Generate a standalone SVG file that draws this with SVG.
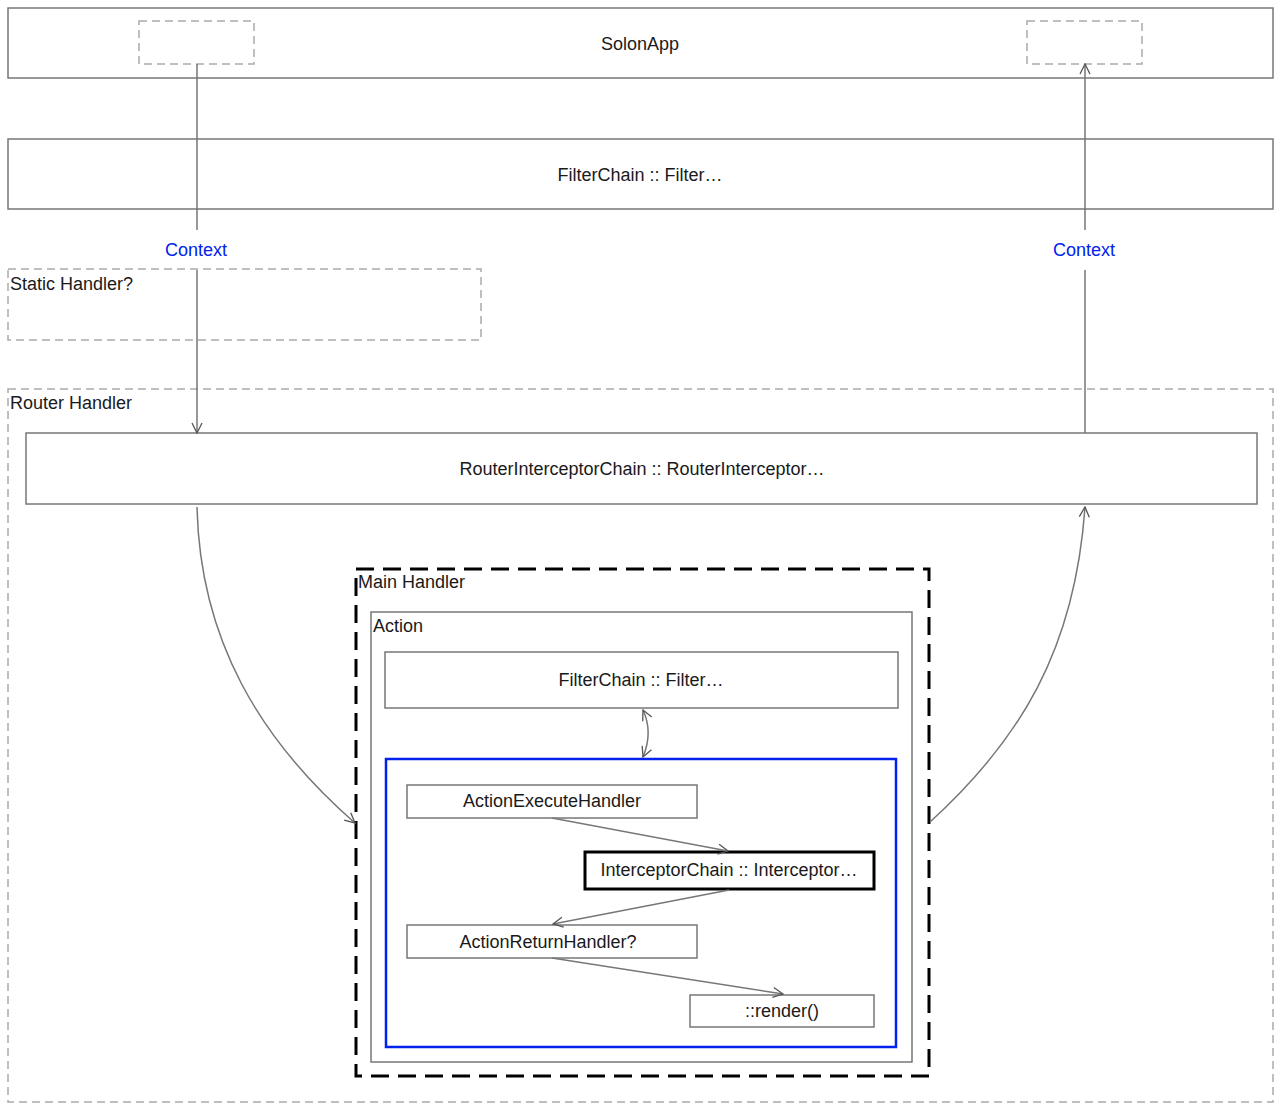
<svg xmlns="http://www.w3.org/2000/svg" width="1280" height="1110" viewBox="0 0 1280 1110">
<style>
text{font-family:"Liberation Sans",Arial,sans-serif;font-size:18px;fill:#1a1a1a}
.box{fill:#fff;stroke:#777;stroke-width:1.5}
.dash{fill:none;stroke:#aaa;stroke-width:1.5;stroke-dasharray:8 5}
.c{text-anchor:middle;dominant-baseline:central}
.conn{fill:none;stroke:#777;stroke-width:1.5}
.blue{fill:#0022ee}
</style>
<defs>
<marker id="a" viewBox="0 0 12 12" refX="11" refY="6" markerWidth="12" markerHeight="12" markerUnits="userSpaceOnUse" orient="auto-start-reverse">
<path d="M1 1L11 6L1 11" fill="none" stroke="#555" stroke-width="1.3"/>
</marker>
</defs>
<rect width="1280" height="1110" fill="#fff"/>
<g id="solonapp"><rect class="box" x="8" y="8" width="1265" height="70"/><text class="c" x="640" y="44">SolonApp</text>
<rect class="dash" x="139" y="21" width="115" height="43"/><rect class="dash" x="1027" y="21" width="115" height="43"/></g>
<g id="filterchain"><rect class="box" x="8" y="139" width="1265" height="70"/><text class="c" x="640" y="175">FilterChain :: Filter…</text></g>
<g id="static"><rect class="dash" x="8" y="269" width="473" height="71"/><text x="10" y="290">Static Handler?</text></g>
<g id="router"><rect class="dash" x="8" y="389" width="1265" height="713"/><text x="10" y="409">Router Handler</text></g>
<g id="ric"><rect class="box" x="26" y="433" width="1231" height="71"/><text class="c" x="642" y="469">RouterInterceptorChain :: RouterInterceptor…</text></g>
<g id="main"><rect x="356" y="569" width="573" height="507" fill="none" stroke="#000" stroke-width="3" stroke-dasharray="18 9"/><text x="358" y="588">Main Handler</text></g>
<g id="action"><rect class="box" x="371" y="612" width="541" height="450"/><text x="373" y="632">Action</text></g>
<g id="filterchain2"><rect class="box" x="385" y="652" width="513" height="56"/><text class="c" x="641" y="680">FilterChain :: Filter…</text></g>
<g id="inner"><rect x="386" y="759" width="510" height="288" fill="none" stroke="#0022ee" stroke-width="2.5"/></g>
<g id="exec"><rect class="box" x="407" y="785" width="290" height="33"/><text class="c" x="552" y="801">ActionExecuteHandler</text></g>
<g id="ic"><rect x="585" y="852" width="289" height="37" fill="#fff" stroke="#000" stroke-width="3"/><text class="c" x="729" y="870">InterceptorChain :: Interceptor…</text></g>
<g id="ret"><rect class="box" x="407" y="925" width="290" height="33"/><text class="c" x="548" y="942">ActionReturnHandler?</text></g>
<g id="render"><rect class="box" x="690" y="995" width="184" height="32"/><text class="c" x="782" y="1011">::render()</text></g>
<g id="connectors">
<path class="conn" d="M197 64V230M197 270V433" marker-end="url(#a)"/>
<path class="conn" d="M1085 433V270M1085 230V64" marker-end="url(#a)"/>
<text class="c blue" x="196" y="250" style="fill:#0022ee">Context</text>
<text class="c blue" x="1084" y="250" style="fill:#0022ee">Context</text>
<path class="conn" d="M197 507C200 640 260 740 355 823" marker-end="url(#a)"/>
<path class="conn" d="M930 822C1020 740 1075 650 1085 507" marker-end="url(#a)"/>
<path class="conn" d="M643 710C650 725 650 740 643 757" marker-start="url(#a)" marker-end="url(#a)"/>
<path class="conn" d="M552 818L728 851" marker-end="url(#a)"/>
<path class="conn" d="M729 890L553 924" marker-end="url(#a)"/>
<path class="conn" d="M552 958L783 994" marker-end="url(#a)"/>
</g>
</svg>
